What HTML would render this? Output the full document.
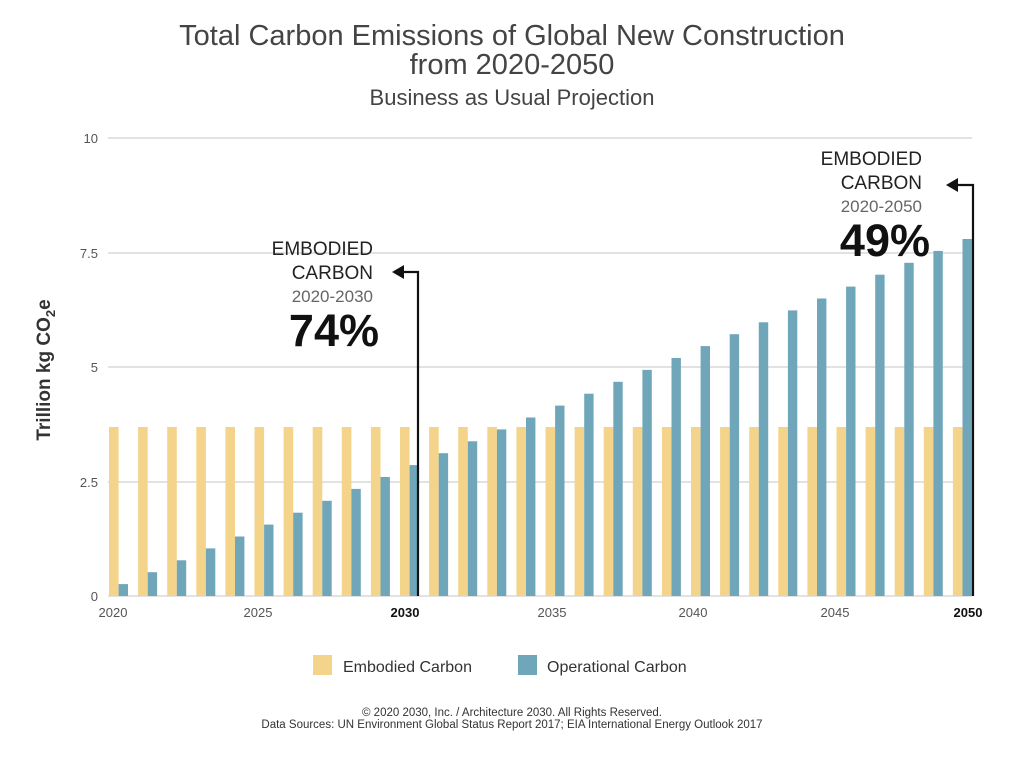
<!DOCTYPE html>
<html><head><meta charset="utf-8"><style>
body{margin:0;background:#fff}
svg text{font-family:"Liberation Sans",sans-serif}
</style></head><body>
<svg width="1024" height="753" viewBox="0 0 1024 753" xmlns="http://www.w3.org/2000/svg">
<rect width="1024" height="753" fill="#fff"/>
<g fill="#444" text-anchor="middle">
<text x="512" y="45" font-size="29">Total Carbon Emissions of Global New Construction</text>
<text x="512" y="74" font-size="29">from 2020-2050</text>
<text x="512" y="105" font-size="22">Business as Usual Projection</text>
</g>
<g stroke="#d0d0d0" stroke-width="1.2">
<line x1="108" y1="138" x2="972" y2="138"/>
<line x1="108" y1="253" x2="972" y2="253"/>
<line x1="108" y1="367" x2="972" y2="367"/>
<line x1="108" y1="482" x2="972" y2="482"/>
<line x1="108" y1="596" x2="972" y2="596"/>
</g>
<g fill="#555" font-size="13" text-anchor="end">
<text x="98" y="143">10</text><text x="98" y="258">7.5</text><text x="98" y="372">5</text><text x="98" y="487">2.5</text><text x="98" y="601">0</text>
</g>
<text transform="translate(50,370) rotate(-90)" text-anchor="middle" font-size="19" font-weight="bold" fill="#333">Trillion kg CO<tspan font-size="13" dy="5">2</tspan><tspan dy="-5">e</tspan></text>
<g fill="#f4d48a">
<rect x="109.0" y="427" width="9.6" height="169"/><rect x="138.1" y="427" width="9.6" height="169"/><rect x="167.2" y="427" width="9.6" height="169"/><rect x="196.3" y="427" width="9.6" height="169"/><rect x="225.4" y="427" width="9.6" height="169"/><rect x="254.5" y="427" width="9.6" height="169"/><rect x="283.6" y="427" width="9.6" height="169"/><rect x="312.7" y="427" width="9.6" height="169"/><rect x="341.8" y="427" width="9.6" height="169"/><rect x="370.9" y="427" width="9.6" height="169"/><rect x="400.0" y="427" width="9.6" height="169"/><rect x="429.1" y="427" width="9.6" height="169"/><rect x="458.2" y="427" width="9.6" height="169"/><rect x="487.3" y="427" width="9.6" height="169"/><rect x="516.4" y="427" width="9.6" height="169"/><rect x="545.5" y="427" width="9.6" height="169"/><rect x="574.6" y="427" width="9.6" height="169"/><rect x="603.7" y="427" width="9.6" height="169"/><rect x="632.8" y="427" width="9.6" height="169"/><rect x="661.9" y="427" width="9.6" height="169"/><rect x="691.0" y="427" width="9.6" height="169"/><rect x="720.1" y="427" width="9.6" height="169"/><rect x="749.2" y="427" width="9.6" height="169"/><rect x="778.3" y="427" width="9.6" height="169"/><rect x="807.4" y="427" width="9.6" height="169"/><rect x="836.5" y="427" width="9.6" height="169"/><rect x="865.6" y="427" width="9.6" height="169"/><rect x="894.7" y="427" width="9.6" height="169"/><rect x="923.8" y="427" width="9.6" height="169"/><rect x="952.9" y="427" width="9.6" height="169"/>
</g>
<g fill="#6fa6b9">
<rect x="118.6" y="584.1" width="9.4" height="11.9"/><rect x="147.7" y="572.2" width="9.4" height="23.8"/><rect x="176.8" y="560.3" width="9.4" height="35.7"/><rect x="205.9" y="548.4" width="9.4" height="47.6"/><rect x="235.0" y="536.5" width="9.4" height="59.5"/><rect x="264.1" y="524.6" width="9.4" height="71.4"/><rect x="293.2" y="512.7" width="9.4" height="83.3"/><rect x="322.3" y="500.8" width="9.4" height="95.2"/><rect x="351.4" y="488.9" width="9.4" height="107.1"/><rect x="380.5" y="477.0" width="9.4" height="119.0"/><rect x="409.6" y="465.1" width="9.4" height="130.9"/><rect x="438.7" y="453.2" width="9.4" height="142.8"/><rect x="467.8" y="441.3" width="9.4" height="154.7"/><rect x="496.9" y="429.4" width="9.4" height="166.6"/><rect x="526.0" y="417.5" width="9.4" height="178.5"/><rect x="555.1" y="405.6" width="9.4" height="190.4"/><rect x="584.2" y="393.7" width="9.4" height="202.3"/><rect x="613.3" y="381.8" width="9.4" height="214.2"/><rect x="642.4" y="369.9" width="9.4" height="226.1"/><rect x="671.5" y="358.0" width="9.4" height="238.0"/><rect x="700.6" y="346.1" width="9.4" height="249.9"/><rect x="729.7" y="334.2" width="9.4" height="261.8"/><rect x="758.8" y="322.3" width="9.4" height="273.7"/><rect x="787.9" y="310.4" width="9.4" height="285.6"/><rect x="817.0" y="298.5" width="9.4" height="297.5"/><rect x="846.1" y="286.6" width="9.4" height="309.4"/><rect x="875.2" y="274.7" width="9.4" height="321.3"/><rect x="904.3" y="262.8" width="9.4" height="333.2"/><rect x="933.4" y="250.9" width="9.4" height="345.1"/><rect x="962.5" y="239.0" width="9.4" height="357.0"/>
</g>
<g font-size="13" fill="#555" text-anchor="middle">
<text x="113" y="617">2020</text><text x="258" y="617">2025</text>
<text x="405" y="617" font-weight="bold" fill="#111">2030</text>
<text x="552" y="617">2035</text><text x="693" y="617">2040</text><text x="835" y="617">2045</text>
<text x="968" y="617" font-weight="bold" fill="#111">2050</text>
</g>
<g stroke="#111" stroke-width="2.2" fill="none">
<polyline points="418,596 418,272 402,272"/>
<polyline points="973,596 973,185 957,185"/>
</g>
<polygon points="392,272 404,265 404,279" fill="#111"/>
<polygon points="946,185 958,178 958,192" fill="#111"/>
<g text-anchor="end" fill="#222">
<text x="373" y="255" font-size="19">EMBODIED</text>
<text x="373" y="279" font-size="19">CARBON</text>
<text x="373" y="302" font-size="17" fill="#666">2020-2030</text>
<text x="379" y="346" font-size="45" font-weight="bold" fill="#111">74%</text>
<text x="922" y="165" font-size="19">EMBODIED</text>
<text x="922" y="189" font-size="19">CARBON</text>
<text x="922" y="212" font-size="17" fill="#666">2020-2050</text>
<text x="930" y="256" font-size="45" font-weight="bold" fill="#111">49%</text>
</g>
<rect x="313" y="655" width="19" height="20" fill="#f4d48a"/>
<text x="343" y="672" font-size="16" fill="#333">Embodied Carbon</text>
<rect x="518" y="655" width="19" height="20" fill="#6fa6b9"/>
<text x="547" y="672" font-size="16" fill="#333">Operational Carbon</text>
<g text-anchor="middle" font-size="11.5" fill="#333">
<text x="512" y="716">© 2020 2030, Inc. / Architecture 2030. All Rights Reserved.</text>
<text x="512" y="728">Data Sources: UN Environment Global Status Report 2017; EIA International Energy Outlook 2017</text>
</g>
</svg>
</body></html>
